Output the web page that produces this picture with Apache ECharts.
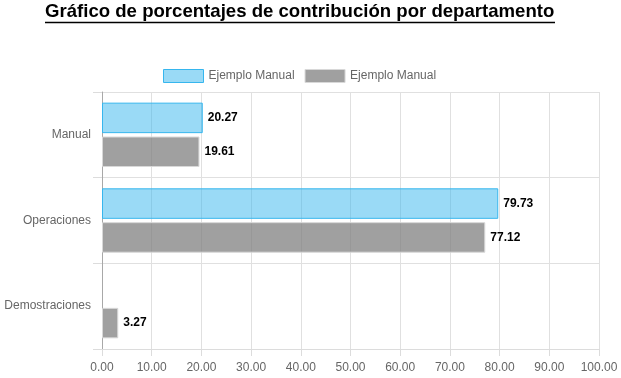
<!DOCTYPE html>
<html><head><meta charset="utf-8">
<script src="https://cdn.jsdelivr.net/npm/echarts@6/dist/echarts.min.js"></script>
<style>html,body{margin:0;padding:0;background:#fff}#c{width:621px;height:378px}</style>
</head><body><div id="c"></div>
<script>
var titleText = 'Gráfico de porcentajes de contribución por departamento';
var categories = ['Manual', 'Operaciones', 'Demostraciones'];
var seriesNames = ['Ejemplo Manual', 'Ejemplo Manual'];
var seriesA = [20.27, 79.73, null];
var seriesB = [19.61, 77.12, 3.27];
var xTicks = {min: 0, max: 100, interval: 10};

var chart = echarts.init(document.getElementById('c'), null, {renderer: 'canvas'});
var font = 'Liberation Sans, Arial, Helvetica, sans-serif';
function lbl(p){ return (p.value == null || p.value === 0) ? '' : Number(p.value).toFixed(2); }
var option = {
  animation: false,
  textStyle: {fontFamily: font},
  title: {text: titleText, left: 45, top: 2, padding: 0, textStyle: {fontSize: 18.6, fontWeight: 'bold', color: '#000', fontFamily: font}},
  graphic: [{type: 'line', shape: {x1: 45, y1: 22.5, x2: 555, y2: 22.5}, style: {stroke: '#000', lineWidth: 1.5}}],
  legend: {
    left: 158, top: 64, itemWidth: 40, itemHeight: 13, itemGap: 10,
    textStyle: {color: '#666', fontSize: 12, fontFamily: font},
    data: [
      {name: seriesNames[0], icon: 'rect', itemStyle: {color: 'rgba(54,182,238,0.5)', borderColor: 'rgb(54,182,238)', borderWidth: 1}},
      {name: seriesNames[1] + ' ', icon: 'rect', itemStyle: {color: 'rgba(128,128,128,0.75)', borderColor: '#d8d8d8', borderWidth: 1}}
    ]
  },
  grid: {left: 102, right: 22, top: 92, bottom: 29, containLabel: false},
  xAxis: {
    type: 'value', min: xTicks.min, max: xTicks.max, interval: xTicks.interval,
    axisLine: {show: true, lineStyle: {color: '#dcdcdc'}},
    axisTick: {show: true, length: 7, lineStyle: {color: '#dcdcdc'}},
    splitLine: {show: true, lineStyle: {color: '#e0e0e0'}},
    axisLabel: {color: '#666', fontSize: 12, margin: 13, formatter: function(v){return v.toFixed(2);}}
  },
  yAxis: {
    type: 'category', data: categories, inverse: true,
    axisLine: {show: true, lineStyle: {color: '#a8a8a8'}},
    axisTick: {show: true, length: 9, lineStyle: {color: '#dcdcdc'}},
    splitLine: {show: true, lineStyle: {color: '#e0e0e0'}},
    axisLabel: {color: '#666', fontSize: 12, margin: 11}
  },
  series: [
    {name: seriesNames[0], type: 'bar', data: seriesA, barWidth: 30.5, barGap: '11%',
     itemStyle: {color: 'rgba(54,182,238,0.5)', borderColor: 'rgb(54,182,238)', borderWidth: 1},
     label: {show: true, position: 'right', distance: 5, color: '#000', fontWeight: 'bold', fontSize: 12, formatter: lbl}},
    {name: seriesNames[1] + ' ', type: 'bar', data: seriesB, barWidth: 30.5, barGap: '11%',
     itemStyle: {color: 'rgba(128,128,128,0.75)', borderColor: '#d8d8d8', borderWidth: 1},
     label: {show: true, position: 'right', distance: 5, color: '#000', fontWeight: 'bold', fontSize: 12, formatter: lbl}}
  ]
};
chart.setOption(option);
</script></body></html>
